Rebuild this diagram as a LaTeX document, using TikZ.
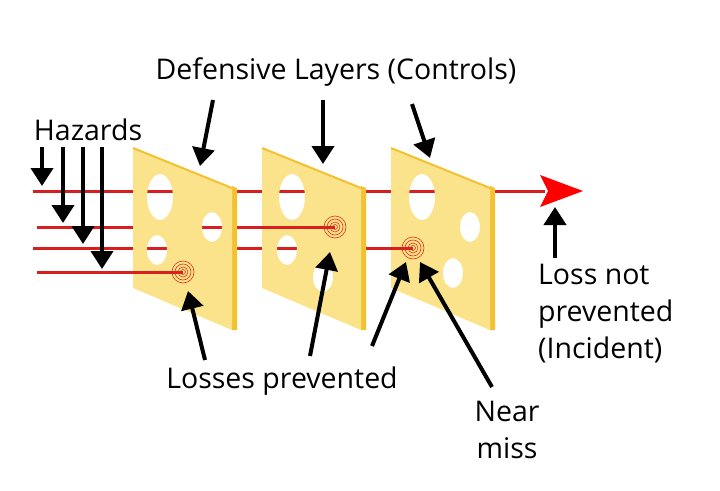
\documentclass[tikz,border=0pt]{standalone}
\usepackage{fontspec}
\setmainfont{Open Sans}
\usetikzlibrary{arrows.meta}
\definecolor{cheese}{HTML}{FBE38C}
\definecolor{cheeseedge}{HTML}{F2C230}
\definecolor{haz}{HTML}{D81E1E}
\begin{document}
\begin{tikzpicture}[x=1pt,y=-1pt,
  lbl/.style={font=\fontsize{28.5}{37}\selectfont,inner sep=0pt},
  callout/.style={line width=4pt,-{Triangle[length=18pt,width=22pt]}},
  hazline/.style={haz,line width=3pt},
  ring/.style={haz!80!orange,line width=0.6pt}]
\useasboundingbox (0,0) rectangle (720,490);
% hazard lines (behind slices)
\draw[hazline] (33,191) -- (545,191);
\fill[red] (540,175) -- (583,191) -- (540,207) -- (548,191) -- cycle;
\draw[hazline] (37,227) -- (335,227);
\draw[hazline] (33,248) -- (413,248);
\draw[hazline] (37,272) -- (183,272);
% slices
\foreach \dx/\ha/\hb/\hc/\hd/\he/\hf in {0/160/197/212/227/157/250, 129/292/197/287/250/323/277, 258/422/197/470/227/453/273}{
  \fill[cheeseedge] (232+\dx,186) -- (237+\dx,188) -- (237+\dx,330) -- (232+\dx,330) -- cycle;
  \fill[cheese,even odd rule] (133+\dx,148) -- (232+\dx,188) -- (232+\dx,330) -- (133+\dx,288) -- cycle
    (\ha,\hb) ellipse [x radius=13,y radius=23]
    (\hc,\hd) ellipse [x radius=10,y radius=15]
    (\he,\hf) ellipse [x radius=10,y radius=15];
  \draw[cheeseedge,line width=2pt] (133+\dx,148) -- (232+\dx,188);
}
% segments in front
\draw[hazline] (130,272) -- (183,272);
\draw[hazline] (260,227) -- (335,227);
\draw[hazline] (388,248) -- (413,248);
\foreach \cx/\cy in {183/272,335/227,413/248}{
  \foreach \r in {2.5,5,8,11}{\draw[ring] (\cx,\cy) circle (\r);}
}
% labels
\node[lbl] (def) at (336,72) {Defensive Layers (Controls)};
\node[lbl] (haz) at (88,130) {Hazards};
\node[lbl] (lp) at (282,381) {Losses prevented};
\node[lbl,align=center] (nm) at (507,430) {Near\\miss};
\node[lbl,align=left,anchor=north west] (lnp) at (538,264) {Loss not\\prevented\\(Incident)};
% arrows
\coordinate (h1) at (42,186); \coordinate (h2) at (63,223);
\coordinate (h3) at (83,244); \coordinate (h4) at (102,269);
\draw[callout] (42,147) -- (h1);
\draw[callout] (63,147) -- (h2);
\draw[callout] (83,147) -- (h3);
\draw[callout] (102,147) -- (h4);
\coordinate (d1) at (200,166); \coordinate (d2) at (323,164); \coordinate (d3) at (430,158);
\draw[callout] (213,100) -- (d1);
\draw[callout] (323,100) -- (d2);
\draw[callout] (412,104) -- (d3);
\coordinate (c1) at (188,291); \coordinate (c2) at (330,252); \coordinate (c3) at (406,262);
\draw[callout] (205,360) -- (c1);
\draw[callout] (310,356) -- (c2);
\draw[callout] (372,346) -- (c3);
\coordinate (c4) at (420,262);
\draw[callout] (492,387) -- (c4);
\coordinate (a1) at (555,207);
\draw[callout] (555,258) -- (a1);
\end{tikzpicture}
\end{document}
